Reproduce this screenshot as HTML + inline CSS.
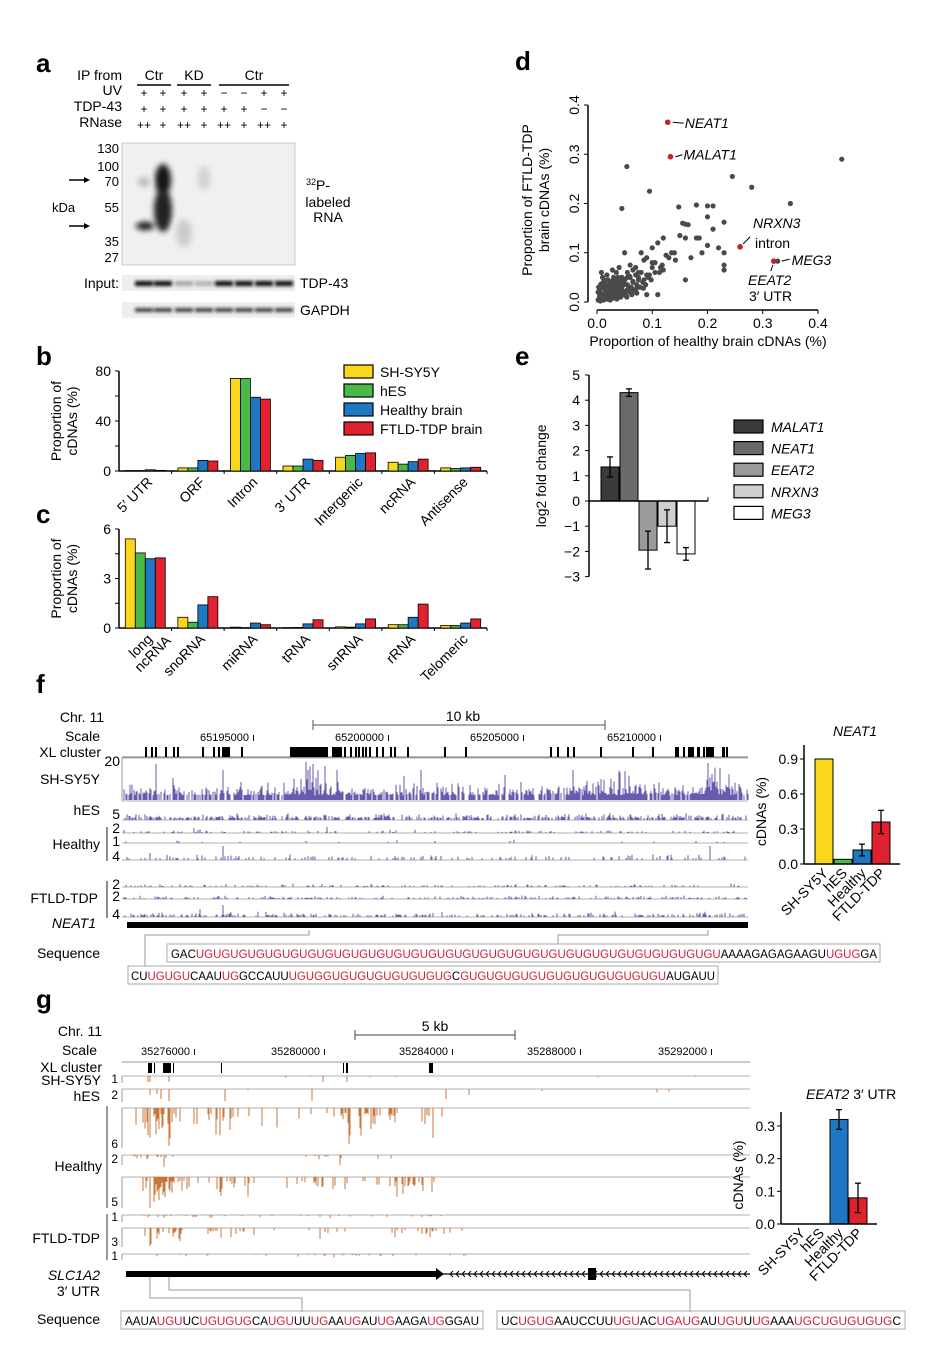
<!DOCTYPE html>
<html><head><meta charset="utf-8">
<style>
html,body{margin:0;padding:0;background:#fff}
svg{display:block;font-family:"Liberation Sans",sans-serif}
</style></head>
<body>
<svg id="fig" width="946" height="1362" viewBox="0 0 946 1362">
<defs>
<filter id="bl" x="-50%" y="-50%" width="200%" height="200%"><feGaussianBlur stdDeviation="3"/></filter>
<filter id="bl2" x="-50%" y="-50%" width="200%" height="200%"><feGaussianBlur stdDeviation="1.5"/></filter>
</defs>

<!-- Panel a -->
<g font-size="14">
<text x="36" y="72" font-size="26" font-weight="bold">a</text>
<g text-anchor="end">
<text x="122" y="80">IP from</text><text x="122" y="95">UV</text><text x="122" y="111">TDP-43</text><text x="122" y="127">RNase</text>
</g>
<g text-anchor="middle">
<text x="154" y="80">Ctr</text><text x="194" y="80">KD</text><text x="254" y="80">Ctr</text>
</g>
<g stroke="#000" stroke-width="1.5"><line x1="137" y1="85" x2="171" y2="85"/><line x1="177" y1="85" x2="211" y2="85"/><line x1="219" y1="85" x2="289" y2="85"/></g>
<g id="signs" text-anchor="middle" font-size="12"></g>
<g text-anchor="end" font-size="13">
<text x="119" y="153">130</text><text x="119" y="171">100</text><text x="119" y="186">70</text><text x="119" y="212">55</text><text x="119" y="246">35</text><text x="119" y="262">27</text>
</g>
<text x="52" y="212" font-size="13">kDa</text>
<g stroke="#000" stroke-width="1.5"><line x1="69" y1="180" x2="86" y2="180"/><line x1="69" y1="226" x2="86" y2="226"/></g>
<path d="M84 177 L90 180 L84 183 Z M84 223 L90 226 L84 229 Z"/>
<rect x="122" y="143" width="173" height="122" fill="#f0f0f0" stroke="#999" stroke-width="0.5"/>
<g filter="url(#bl)">
<ellipse cx="145" cy="226" rx="9" ry="4" fill="#111"/>
<ellipse cx="144" cy="182" rx="6" ry="5" fill="#bbb"/>
<ellipse cx="163" cy="180" rx="8" ry="16" fill="#151515"/>
<ellipse cx="163" cy="210" rx="9" ry="22" fill="#222"/>
<ellipse cx="184" cy="233" rx="8" ry="14" fill="#ccc"/>
<ellipse cx="204" cy="178" rx="6" ry="12" fill="#d2d2d2"/>
</g>
<text x="306" y="190" font-size="14"><tspan font-size="9" dy="-5">32</tspan><tspan dy="5">P-</tspan></text>
<text x="328" y="207" font-size="14" text-anchor="middle">labeled</text>
<text x="328" y="222" font-size="14" text-anchor="middle">RNA</text>
<text x="119" y="288" text-anchor="end">Input:</text>
<rect x="122" y="275" width="173" height="16" fill="#eee"/>
<rect x="122" y="302" width="173" height="16" fill="#eee"/>
<g id="bands" filter="url(#bl2)"></g>
<text x="300" y="288">TDP-43</text><text x="300" y="315">GAPDH</text>
</g>

<!-- Panel b & c -->
<text x="36" y="365" font-size="26" font-weight="bold">b</text>
<text x="36" y="523" font-size="26" font-weight="bold">c</text>
<g id="chartB"></g>
<g id="chartC"></g>
<g id="legendB" font-size="14"></g>

<!-- Panel d -->
<text x="515" y="70" font-size="26" font-weight="bold">d</text>
<g id="chartD"></g>

<!-- Panel e -->
<text x="515" y="365" font-size="26" font-weight="bold">e</text>
<g id="chartE"></g>

<!-- Panel f -->
<text x="36" y="693" font-size="26" font-weight="bold">f</text>
<g id="panelF"></g>
<g id="chartF"></g>

<!-- Panel g -->
<text x="36" y="1008" font-size="26" font-weight="bold">g</text>
<g id="panelG"></g>
<g id="chartG"></g>
</svg>

<script>
// ---------- data ----------
const bCategories = ["5′ UTR","ORF","Intron","3′ UTR","Intergenic","ncRNA","Antisense"];
const bSHSY5Y = [0.3,2.5,74,4,11,7,2.5];
const bHES = [0.3,2.5,74,4,12.5,5.5,2];
const bHealthy = [1,8.5,59,9.5,14,7.5,2.5];
const bFTLD = [0.5,8,57.5,8.5,14.5,9.5,3];
const bTicks = [0,40,80];

const cCategories = ["long ncRNA","snoRNA","miRNA","tRNA","snRNA","rRNA","Telomeric"];
const cSHSY5Y = [5.4,0.65,0.05,0.02,0.07,0.2,0.15];
const cHES = [4.55,0.35,0.02,0.03,0.05,0.2,0.15];
const cHealthy = [4.2,1.4,0.3,0.25,0.25,0.65,0.3];
const cFTLD = [4.25,1.9,0.2,0.5,0.55,1.45,0.55];
const cTicks = [0,3,6];

const seriesNames = ["SH-SY5Y","hES","Healthy brain","FTLD-TDP brain"];
const seriesColors = ["#f9d71c","#4bb94a","#1f77c4","#e0212e"];

const dHealthyX = [0.054,0.095,0.045,0.148,0.18,0.2,0.21,0.2,0.245,0.28,0.35,0.443,0.23,0.155,0.16,0.165,0.21,0.16,0.18,0.185,0.15,0.2,0.22,0.23,0.23,0.23,0.16,0.19,0.17,0.14,0.13,0.12,0.11,0.09,0.12,0.11,0.1,0.327,
0.08,0.085,0.09,0.1,0.07,0.075,0.06,0.065,0.055,0.05,0.045,0.04,0.035,0.03,0.025,0.02,0.015,0.01,0.005,0.005,0.01,0.015,0.02,0.025,0.03,0.035,0.04,0.045,0.05,0.055,0.06,0.065,0.07,0.075,0.08,0.09,0.1,0.105,0.01,0.02,0.03,0.04,0.05,0.06,0.07,0.012,0.022,0.032,0.042,0.052,0.062,0.072,0.008,0.018,0.028,0.038,0.048,0.058,0.003,0.013,0.023,0.033,0.043,0.053,0.063,0.073,0.083,0.093,0.113,0.125,0.135,0.142,0.118,0.098,0.088,0.068,
0.002,0.004,0.006,0.008,0.01,0.012,0.014,0.016,0.018,0.02,0.022,0.024,0.026,0.028,0.03,0.032,0.034,0.036,0.038,0.04,0.002,0.005,0.008,0.011,0.014,0.017,0.02,0.023,0.026,0.029,0.032,0.035,0.038,0.041,0.044,0.047,0.003,0.007,0.011,0.015,0.019,0.023,0.027,0.031,0.035,0.039,0.043,0.047,0.051,0.055,0.059,0.004,0.009,0.014,0.019,0.024,0.029,0.034,0.039,0.044,0.049,0.054,0.006,0.012,0.018,0.024,0.03,0.036,0.042,0.048,0.054,0.06,0.066,0.072,0.078,0.084,0.005,0.015,0.025,0.035,0.045,0.055,0.065,0.075,0.085,0.095,0.105,0.115];
const dFTLDY = [0.275,0.225,0.19,0.193,0.197,0.195,0.195,0.173,0.255,0.233,0.2,0.29,0.162,0.16,0.158,0.157,0.148,0.13,0.13,0.13,0.135,0.115,0.11,0.1,0.075,0.065,0.045,0.1,0.09,0.1,0.09,0.065,0.015,0.015,0.13,0.12,0.11,0.083,
0.1,0.085,0.09,0.08,0.07,0.06,0.075,0.065,0.06,0.1,0.05,0.07,0.06,0.05,0.04,0.045,0.035,0.03,0.02,0.01,0.05,0.025,0.015,0.03,0.02,0.04,0.03,0.025,0.045,0.035,0.05,0.04,0.055,0.045,0.06,0.055,0.07,0.08,0.01,0.01,0.01,0.012,0.015,0.02,0.025,0.04,0.03,0.02,0.015,0.02,0.03,0.035,0.06,0.055,0.065,0.05,0.04,0.03,0.005,0.015,0.005,0.008,0.01,0.012,0.015,0.03,0.04,0.05,0.06,0.095,0.1,0.085,0.075,0.045,0.035,0.025,
0.004,0.008,0.012,0.006,0.01,0.014,0.018,0.008,0.012,0.016,0.02,0.01,0.014,0.018,0.022,0.012,0.016,0.02,0.024,0.028,0.02,0.024,0.028,0.032,0.018,0.026,0.03,0.034,0.022,0.03,0.036,0.026,0.032,0.038,0.04,0.034,0.03,0.036,0.04,0.044,0.028,0.038,0.042,0.046,0.034,0.044,0.048,0.04,0.046,0.05,0.052,0.006,0.008,0.01,0.006,0.008,0.01,0.012,0.014,0.016,0.02,0.024,0.002,0.004,0.006,0.004,0.008,0.006,0.012,0.016,0.01,0.02,0.024,0.018,0.03,0.028,0.014,0.02,0.028,0.018,0.035,0.025,0.042,0.05,0.045,0.055,0.06,0.07];
const dHighlightNames = ["NEAT1","MALAT1","NRXN3","EEAT2"];
const dHighlightX = [0.128,0.133,0.259,0.32];
const dHighlightY = [0.365,0.295,0.112,0.083];
const dTicks = [0.0,0.1,0.2,0.3,0.4];

const eNames = ["MALAT1","NEAT1","EEAT2","NRXN3","MEG3"];
const eValues = [1.35,4.3,-1.95,-1.0,-2.1];
const eErrors = [0.4,0.15,0.75,0.65,0.25];
const eColors = ["#3a3a3a","#6a6a6a","#9a9a9a","#cfcfcf","#ffffff"];
const eTicks = [5,4,3,2,1,0,-1,-2,-3];

const fCategories = ["SH-SY5Y","hES","Healthy","FTLD-TDP"];
const fValues = [0.9,0.04,0.12,0.36];
const fErrors = [0,0,0.05,0.1];
const fTicks = [0.0,0.3,0.6,0.9];

const gCategories = ["SH-SY5Y","hES","Healthy","FTLD-TDP"];
const gValues = [0,0,0.32,0.08];
const gErrors = [0,0,0.03,0.045];
const gTicks = [0.0,0.1,0.2,0.3];

// ---------- helpers ----------
const NS="http://www.w3.org/2000/svg";
function mk(parent,tag,attrs,text){const e=document.createElementNS(NS,tag);for(const k in attrs)e.setAttribute(k,attrs[k]);if(text!==undefined)e.textContent=text;parent.appendChild(e);return e;}
function fmt(v,d){return v.toFixed(d).replace("-","−");}

// blot signs
(function(){
 const g=document.getElementById('signs');
 const xs=[144,163,184,204,224,244,264,284];
 const uv=["+","+","+","+","−","−","+","+"],tdp=["+","+","+","+","+","+","−","−"],rn=["++","+","++","+","++","+","++","+"];
 xs.forEach((x,i)=>{mk(g,'text',{x:x,y:97},uv[i]);mk(g,'text',{x:x,y:113},tdp[i]);mk(g,'text',{x:x,y:129},rn[i]);});
 const b=document.getElementById('bands');
 const inp=[1,1,0.3,0.25,1,1,1,1];
 xs.forEach((x,i)=>{mk(b,'rect',{x:x-9,y:281,width:18,height:5,fill:'#111','fill-opacity':inp[i]});mk(b,'rect',{x:x-9,y:308,width:18,height:4,fill:'#222','fill-opacity':0.85});});
})();

// grouped bars b/c
function grouped(id,cats,series,ticks,x0,x1,y0,yTop,rotLabels,labelBreak){
 const g=document.getElementById(id);
 const max=ticks[ticks.length-1];
 const ys=v=>y0-(v/max)*(y0-yTop);
 mk(g,'line',{x1:x0,y1:yTop,x2:x0,y2:y0,stroke:'#000','stroke-width':1.5});
 mk(g,'line',{x1:x0,y1:y0,x2:x1,y2:y0,stroke:'#000','stroke-width':1.5});
 const step=(ticks[1]-ticks[0])/2;
 for(let v=0;v<=max+1e-9;v+=step){mk(g,'line',{x1:x0-4,y1:ys(v),x2:x0,y2:ys(v),stroke:'#000'});}
 ticks.forEach(v=>{const t=mk(g,'text',{x:x0-8,y:ys(v)+5,'text-anchor':'end','font-size':14},String(v));});
 const gw=(x1-x0)/cats.length, bw=10;
 cats.forEach((c,i)=>{
  const gx=x0+gw*i+gw/2-2*bw;
  mk(g,'line',{x1:x0+gw*(i+1),y1:y0,x2:x0+gw*(i+1),y2:y0+3,stroke:'#000'});
  series.forEach((s,j)=>{
   const r=mk(g,'rect',{x:gx+j*bw,y:ys(s[i]),width:bw,height:Math.max(0.5,y0-ys(s[i])),fill:seriesColors[j],stroke:'#000','stroke-width':0.8});
   
   
  });
  const lx=x0+gw*i+gw/2+8, ly=y0+12;
  const t=mk(g,'text',{x:lx,y:ly,'text-anchor':'end','font-size':14,transform:`rotate(-45 ${lx} ${ly})`});
  if(labelBreak && c.indexOf(' ')>0 && c.startsWith('long')){
   mk(t,'tspan',{x:lx,dy:0},'long');mk(t,'tspan',{x:lx+12,dy:14},'ncRNA');
  } else t.textContent=c;
  
 });
 const tx=x0-50, ty=(y0+yTop)/2;
 const yl=mk(g,'text',{x:tx,y:ty,'text-anchor':'middle','font-size':14,transform:`rotate(-90 ${tx} ${ty})`});
 mk(yl,'tspan',{x:tx,dy:-8},'Proportion of');mk(yl,'tspan',{x:tx,dy:16},'cDNAs (%)');
 
}
grouped('chartB',bCategories,[bSHSY5Y,bHES,bHealthy,bFTLD],bTicks,119,487,471,371);
grouped('chartC',cCategories,[cSHSY5Y,cHES,cHealthy,cFTLD],cTicks,119,487,628,529,true,true);
(function(){const g=document.getElementById('legendB');
 seriesNames.forEach((n,i)=>{const y=365+i*19;
  const r=mk(g,'rect',{x:344,y:y,width:29,height:13,fill:seriesColors[i],stroke:'#000','stroke-width':1.2});
  
  const t=mk(g,'text',{x:380,y:y+12},n);});
})();

// scatter d
(function(){
 const g=document.getElementById('chartD');
 const X=v=>597+v*552.5, Y=v=>302-v*492.5;
 mk(g,'line',{x1:588,y1:Y(0.4),x2:588,y2:Y(0),stroke:'#000','stroke-width':1.5});
 mk(g,'line',{x1:X(0),y1:310,x2:X(0.4),y2:310,stroke:'#000','stroke-width':1.5});
 dTicks.forEach(v=>{
  mk(g,'line',{x1:584,y1:Y(v),x2:588,y2:Y(v),stroke:'#000'});
  mk(g,'line',{x1:X(v),y1:310,x2:X(v),y2:314,stroke:'#000'});
  const tx=579,ty=Y(v);
  const a=mk(g,'text',{x:tx,y:ty,'text-anchor':'middle','font-size':14,transform:`rotate(-90 ${tx} ${ty})`},v.toFixed(1));
  const b=mk(g,'text',{x:X(v),y:328,'text-anchor':'middle','font-size':14},v.toFixed(1));
 });
 const yt=mk(g,'text',{x:540,y:200,'text-anchor':'middle','font-size':14,transform:'rotate(-90 540 200)'});
 mk(yt,'tspan',{x:540,dy:-8},'Proportion of FTLD-TDP');mk(yt,'tspan',{x:540,dy:17},'brain cDNAs (%)');
 
 const xt=mk(g,'text',{x:708,y:346,'text-anchor':'middle','font-size':14},'Proportion of healthy brain cDNAs (%)');
 dHealthyX.forEach((x,i)=>{const c=mk(g,'circle',{cx:X(x),cy:Y(dFTLDY[i]),r:2.6,fill:'#4a4a4a'});});
 dHighlightX.forEach((x,i)=>{const c=mk(g,'circle',{cx:X(x),cy:Y(dHighlightY[i]),r:2.8,fill:'#c8202a'});});
 const L=(x1,y1,x2,y2)=>mk(g,'line',{x1,y1,x2,y2,stroke:'#000','stroke-width':1});
 L(X(0.128)+5,Y(0.365),X(0.128)+16,Y(0.365)+1);
 mk(g,'text',{x:X(0.128)+17,y:Y(0.365)+6,'font-size':14,'font-style':'italic'},'NEAT1');
 L(X(0.133)+5,Y(0.295),X(0.133)+12,Y(0.295)-2);
 mk(g,'text',{x:X(0.133)+13,y:Y(0.295)+3,'font-size':14,'font-style':'italic'},'MALAT1');
 L(X(0.259)+3,Y(0.112)-3,X(0.259)+10,Y(0.112)-10);
 mk(g,'text',{x:753,y:Y(0.112)-19,'font-size':14,'font-style':'italic'},'NRXN3');
 mk(g,'text',{x:755,y:Y(0.112)+1,'font-size':14},'intron');
 L(X(0.327)+4,Y(0.083),X(0.327)+12,Y(0.083)-2);
 mk(g,'text',{x:X(0.327)+14,y:Y(0.083)+4,'font-size':14,'font-style':'italic'},'MEG3');
 L(X(0.32)-1,Y(0.083)+4,X(0.32)-3,Y(0.083)+10);
 mk(g,'text',{x:748,y:Y(0.083)+24,'font-size':14,'font-style':'italic'},'EEAT2');
 mk(g,'text',{x:749,y:Y(0.083)+40,'font-size':14},'3′ UTR');
})();

// bar chart e
(function(){
 const g=document.getElementById('chartE');
 const Y=v=>501-v*25.2;
 mk(g,'line',{x1:589,y1:Y(5),x2:589,y2:Y(-3),stroke:'#000','stroke-width':1.5});
 eTicks.forEach(v=>{mk(g,'line',{x1:585,y1:Y(v),x2:589,y2:Y(v),stroke:'#000'});
  const t=mk(g,'text',{x:580,y:Y(v)+5,'text-anchor':'end','font-size':14},fmt(v,0));});
 const yt=mk(g,'text',{x:546,y:Y(1),'text-anchor':'middle','font-size':14,transform:`rotate(-90 546 ${Y(1)})`},'log2 fold change');
 
 eValues.forEach((v,i)=>{const x=601+i*19;
  const r=mk(g,'rect',{x:x,y:Math.min(Y(v),Y(0)),width:18,height:Math.abs(Y(v)-Y(0)),fill:eColors[i],stroke:'#000','stroke-width':1});
  
  const cx=x+9;
  mk(g,'line',{x1:cx,y1:Y(v+eErrors[i]),x2:cx,y2:Y(v-eErrors[i]),stroke:'#000','stroke-width':1.3});
  mk(g,'line',{x1:cx-3,y1:Y(v+eErrors[i]),x2:cx+3,y2:Y(v+eErrors[i]),stroke:'#000','stroke-width':1.3});
  mk(g,'line',{x1:cx-3,y1:Y(v-eErrors[i]),x2:cx+3,y2:Y(v-eErrors[i]),stroke:'#000','stroke-width':1.3});
 });
 mk(g,'line',{x1:589,y1:Y(0),x2:708,y2:Y(0),stroke:'#000','stroke-width':1.5});
 mk(g,'line',{x1:708,y1:Y(0)-4,x2:708,y2:Y(0),stroke:'#000'});
 eNames.forEach((n,i)=>{const y=420+i*21.6;
  const r=mk(g,'rect',{x:734,y:y,width:29,height:13,fill:eColors[i],stroke:'#000','stroke-width':1.2});
  const t=mk(g,'text',{x:771,y:y+12,'font-size':14,'font-style':'italic'},n);});
})();

// small bar charts f/g
function smallBar(id,cats,vals,errs,ticks,x0,y0,yTop){
 const g=document.getElementById(id);
 const max=ticks[ticks.length-1];
 const Y=v=>y0-v/max*(y0-yTop);
 mk(g,'line',{x1:x0,y1:yTop-14,x2:x0,y2:y0,stroke:'#000','stroke-width':1.5});
 ticks.forEach(v=>{mk(g,'line',{x1:x0-4,y1:Y(v),x2:x0,y2:Y(v),stroke:'#000'});
  const t=mk(g,'text',{x:x0-6,y:Y(v)+5,'text-anchor':'end','font-size':14},v.toFixed(1));});
 const tx=x0-38,ty=(y0+yTop)/2;
 const yt=mk(g,'text',{x:tx,y:ty,'text-anchor':'middle','font-size':14,transform:`rotate(-90 ${tx} ${ty})`},'cDNAs (%)');
 vals.forEach((v,i)=>{const x=x0+11+i*19;
  if(v>0){const r=mk(g,'rect',{x:x,y:Y(v),width:18,height:y0-Y(v),fill:seriesColors[i],stroke:'#000','stroke-width':1});}
  if(errs[i]>0){const cx=x+9;
   mk(g,'line',{x1:cx,y1:Y(v+errs[i]),x2:cx,y2:Y(v-errs[i]),stroke:'#000','stroke-width':1.3});
   mk(g,'line',{x1:cx-3,y1:Y(v+errs[i]),x2:cx+3,y2:Y(v+errs[i]),stroke:'#000','stroke-width':1.3});
   mk(g,'line',{x1:cx-3,y1:Y(v-errs[i]),x2:cx+3,y2:Y(v-errs[i]),stroke:'#000','stroke-width':1.3});}
  const lx=x+14,ly=y0+10;
  const t=mk(g,'text',{x:lx,y:ly,'text-anchor':'end','font-size':14,transform:`rotate(-45 ${lx} ${ly})`},cats[i]);
 });
 mk(g,'line',{x1:x0,y1:y0,x2:x0+96,y2:y0,stroke:'#000','stroke-width':1.5});
}
smallBar('chartF',fCategories,fValues,fErrors,fTicks,804,864,759);
mk(document.getElementById('chartF'),'text',{x:855,y:736,'text-anchor':'middle','font-size':14,'font-style':'italic'},'NEAT1');
smallBar('chartG',gCategories,gValues,gErrors,gTicks,781,1224,1126);
(function(){const t=mk(document.getElementById('chartG'),'text',{x:806,y:1099,'font-size':14});mk(t,'tspan',{'font-style':'italic'},'EEAT2');mk(t,'tspan',{},' 3′ UTR');})();
mk(document.getElementById('fig'),'rect',{x:905,y:1080,width:41,height:30,fill:'#fff'});

// texture generator for genome tracks (decorative density pattern)
function hash(n){let x=Math.sin(n*12.9898+78.233)*43758.5453;return x-Math.floor(x);}
function track(g,x0,x1,base,h,color,density,seed,peaks,down,hot){
 let d='';
 for(let x=x0;x<=x1;x+=1){
  const r=hash(x*1.37+seed);
  let hv=0;
  const local = hot? hot.reduce((a,p)=>a+Math.max(0,1-Math.abs(x-p[0])/p[1])*p[2],0):0;
  if(r<density+local*0.5){hv=h*(0.12+0.35*hash(x*2.1+seed*3)*hash(x*0.7+seed)*(1+local*1.5));}
  if(hv>0){ d+= down? `M${x} ${base}v${Math.min(h,hv).toFixed(1)}` : `M${x} ${base}v${(-Math.min(h,hv)).toFixed(1)}`; }
 }
 (peaks||[]).forEach(p=>{d+= down?`M${p[0]} ${base}v${p[1]}`:`M${p[0]} ${base}v${-p[1]}`;});
 const e=mk(g,'path',{d:d,stroke:color,'stroke-width':1,fill:'none'});
 
}
function xl(g,y,marks){marks.forEach(m=>{mk(g,'rect',{x:m[0],y:y,width:m[1],height:10,fill:'#000'});});}

// Panel f
(function(){
 const g=document.getElementById('panelF'), P='#6a5aad', x0=124, x1=748;
 const lab=(x,y,t,a,it)=>mk(g,'text',{x:x,y:y,'text-anchor':a||'end','font-size':14,'font-style':it?'italic':'normal'},t);
 lab(104,722,'Chr. 11');lab(100,741,'Scale');lab(101,757,'XL cluster');lab(100,784,'SH-SY5Y');lab(100,815,'hES');lab(100,849,'Healthy');lab(98,903,'FTLD-TDP');lab(96,928,'NEAT1','end',true);lab(100,958,'Sequence');
 mk(g,'line',{x1:313,y1:725,x2:605,y2:725,stroke:'#555'});mk(g,'line',{x1:313,y1:720,x2:313,y2:730,stroke:'#555'});mk(g,'line',{x1:605,y1:720,x2:605,y2:730,stroke:'#555'});
 lab(463,721,'10 kb','middle');
 [[200,'65195000'],[335,'65200000'],[470,'65205000'],[607,'65210000']].forEach(a=>{mk(g,'text',{x:a[0],y:741,'font-size':11},a[1]+' ı');});
 mk(g,'line',{x1:122,y1:757,x2:748,y2:757,stroke:'#777'});
 xl(g,747,[[145,2],[151,2],[155,2],[165,2],[173,2],[177,2],[202,2],[213,2],[218,2],[222,8],[241,2],[290,16],[306,22],[332,10],[344,2],[350,2],[355,2],[358,2],[362,2],[365,2],[369,2],[376,2],[382,2],[390,2],[394,2],[407,2],[444,2],[465,2],[550,2],[557,2],[567,2],[573,2],[600,2],[632,2],[652,2],[675,4],[683,2],[688,6],[697,3],[703,2],[706,8],[722,3],[726,2]]);
 lab(120,766,'20','end');lab(120,819,'5','end');
 [[758],[801],[820],[833],[843],[860],[887],[899],[917]].forEach(a=>mk(g,'line',{x1:122,y1:a[0],x2:748,y2:a[0],stroke:'#999','stroke-width':0.8}));
 mk(g,'line',{x1:122,y1:758,x2:122,y2:801,stroke:'#999'});
 track(g,x0,x1,800,40,P,0.75,1,[[156,36],[173,22],[223,30],[241,18],[306,38],[308,30],[313,36],[318,30],[325,34],[337,30],[338,18],[404,24],[421,30],[470,15],[505,25],[573,30],[708,37],[712,26],[720,32]],false,[[310,30,1],[620,60,0.6],[715,30,0.8]]);
 track(g,x0,x1,820,16,P,0.55,2,[],false);
 lab(120,833,'2','end');lab(120,846,'1','end');lab(120,861,'4','end');lab(120,889,'2','end');lab(120,901,'2','end');lab(120,919,'4','end');
 mk(g,'line',{x1:107,y1:827,x2:107,y2:861,stroke:'#666','stroke-width':1.5});
 mk(g,'line',{x1:107,y1:881,x2:107,y2:918,stroke:'#666','stroke-width':1.5});
 track(g,x0,x1,833,8,P,0.18,3,[[327,6],[194,5]],false);
 track(g,x0,x1,843,8,P,0.03,4,[],false);
 track(g,x0,x1,860,14,P,0.2,5,[[223,14],[150,7],[710,14]],false);
 track(g,x0,x1,887,8,P,0.25,6,[],false);
 track(g,x0,x1,899,8,P,0.3,7,[],false);
 track(g,x0,x1,917,12,P,0.35,8,[[223,12],[200,8]],false);
 const nb=mk(g,'rect',{x:127,y:922,width:621,height:6,fill:'#000'});
 mk(g,'polyline',{points:'145,966 145,935 309,935 309,930',stroke:'#999',fill:'none'});
 mk(g,'polyline',{points:'558,944 558,935 708,935 708,930',stroke:'#999',fill:'none'});
 mk(g,'rect',{x:167,y:944,width:713,height:18,fill:'none',stroke:'#aaa'});
 mk(g,'rect',{x:128,y:966,width:590,height:18,fill:'none',stroke:'#aaa'});
 const s1=mk(g,'text',{x:171,y:958,'font-size':12,textLength:706,lengthAdjust:'spacingAndGlyphs'});
 mk(s1,'tspan',{},'GAC');mk(s1,'tspan',{fill:'#d0203a'},'UGUGUGUGUGUGUGUGUGUGUGUGUGUGUGUGUGUGUGUGUGUGUGUGUGUGUGUGUGUGU');mk(s1,'tspan',{},'AAAAGAGAGAAGU');mk(s1,'tspan',{fill:'#d0203a'},'UGUG');mk(s1,'tspan',{},'GA');
 const s2=mk(g,'text',{x:131,y:980,'font-size':12,textLength:584,lengthAdjust:'spacingAndGlyphs'});
 mk(s2,'tspan',{},'CU');mk(s2,'tspan',{fill:'#d0203a'},'UGUGU');mk(s2,'tspan',{},'CAAU');mk(s2,'tspan',{fill:'#d0203a'},'UG');mk(s2,'tspan',{},'GCCAUU');mk(s2,'tspan',{fill:'#d0203a'},'UGUGGUGUGUGUGUGUGUG');mk(s2,'tspan',{},'C');mk(s2,'tspan',{fill:'#d0203a'},'GUGUGUGUGUGUGUGUGUGUGUGU');mk(s2,'tspan',{},'AUGAUU');
})();

// Panel g
(function(){
 const g=document.getElementById('panelG'), O='#c8773a', x0=124, x1=750;
 const lab=(x,y,t,a,it)=>mk(g,'text',{x:x,y:y,'text-anchor':a||'end','font-size':14,'font-style':it?'italic':'normal'},t);
 lab(102,1036,'Chr. 11');lab(97,1055,'Scale');lab(102,1072,'XL cluster');lab(101,1085,'SH-SY5Y');lab(100,1101,'hES');lab(102,1171,'Healthy');lab(100,1243,'FTLD-TDP');lab(100,1280,'SLC1A2','end',true);lab(100,1296,'3′ UTR');lab(100,1324,'Sequence');
 mk(g,'line',{x1:355,y1:1035,x2:515,y2:1035,stroke:'#444'});mk(g,'line',{x1:355,y1:1030,x2:355,y2:1040,stroke:'#444'});mk(g,'line',{x1:515,y1:1030,x2:515,y2:1040,stroke:'#444'});
 lab(435,1031,'5 kb','middle');
 [[141,'35276000'],[271,'35280000'],[399,'35284000'],[527,'35288000'],[658,'35292000']].forEach(a=>{mk(g,'text',{x:a[0],y:1055,'font-size':11},a[1]+' ı');});
 mk(g,'line',{x1:122,y1:1062,x2:750,y2:1062,stroke:'#999'});
 xl(g,1063,[[148,4],[154,1],[163,8],[173,1],[221,1],[343,1],[346,2],[429,4]]);
 [1076,1089,1108,1155,1177,1215,1228,1254].forEach(y=>mk(g,'line',{x1:122,y1:y,x2:750,y2:y,stroke:'#999','stroke-width':0.8}));
 [[1076,1083],[1089,1102],[1108,1148],[1155,1165],[1177,1208],[1215,1222],[1228,1247],[1254,1260]].forEach(a=>mk(g,'line',{x1:122,y1:a[0],x2:122,y2:a[1],stroke:'#999'}));
 lab(118,1083,'1','end',false);lab(118,1099,'2');lab(118,1148,'6');lab(118,1163,'2');lab(118,1206,'5');lab(118,1221,'1');lab(118,1246,'3');lab(118,1260,'1');
 mk(g,'line',{x1:107,y1:1106,x2:107,y2:1208,stroke:'#777','stroke-width':1.5});
 mk(g,'line',{x1:107,y1:1214,x2:107,y2:1260,stroke:'#777','stroke-width':1.5});
 g.querySelectorAll('text').forEach(t=>{if(/^\d$/.test(t.textContent))t.setAttribute('font-size','12');});
 track(g,x0,x1,1076,6,O,0.01,11,[[148,6],[150,6],[169,6],[323,6],[347,6]],true);
 track(g,x0,x1,1089,12,O,0.01,12,[[150,6],[157,5],[161,10],[169,12],[225,12],[312,12],[446,10],[469,6]],true);
 track(g,x0,x1,1108,40,O,0.0,13,[[150,20],[163,18],[169,38],[262,18],[433,30]],true,[[160,30,1.8],[215,40,0.8],[300,30,0.6],[345,25,0.9],[380,40,0.8],[430,15,1],[490,10,0.2]]);
 track(g,x0,x1,1155,10,O,0.0,14,[[164,12],[340,10]],true,[[150,25,0.6],[330,25,0.4],[380,30,0.3]]);
 track(g,x0,x1,1177,31,O,0.0,15,[[150,31],[163,18],[170,14]],true,[[165,30,1.8],[230,45,0.7],[320,50,0.7],[400,40,0.9]]);
 track(g,x0,x1,1215,7,O,0.0,16,[],true,[[200,80,0.45],[320,80,0.35],[420,40,0.4]]);
 track(g,x0,x1,1228,18,O,0.0,17,[[150,18],[151,16]],true,[[170,40,0.8],[240,60,0.4],[330,60,0.4],[420,50,0.6]]);
 track(g,x0,x1,1254,7,O,0.0,18,[],true,[[200,90,0.3],[340,60,0.35],[450,60,0.2]]);
 const gb=mk(g,'rect',{x:126,y:1271,width:314,height:6,fill:'#000'});
 mk(g,'path',{d:'M436 1268 L444 1274 L436 1280 Z',fill:'#000'});
 mk(g,'line',{x1:440,y1:1274,x2:750,y2:1274,stroke:'#000','stroke-width':1.2});
 let chev='';for(let x=450;x<750;x+=6)chev+=`M${x+3} 1271 L${x} 1274 L${x+3} 1277`;
 mk(g,'path',{d:chev,stroke:'#000',fill:'none','stroke-width':1});
 mk(g,'rect',{x:588,y:1268,width:8,height:12,fill:'#000'});
 mk(g,'polyline',{points:'150,1277 150,1298 302,1298 302,1312',stroke:'#999',fill:'none'});
 mk(g,'polyline',{points:'169,1277 169,1290 690,1290 690,1312',stroke:'#999',fill:'none'});
 mk(g,'rect',{x:121,y:1311,width:362,height:18,fill:'none',stroke:'#aaa'});
 mk(g,'rect',{x:497,y:1311,width:408,height:18,fill:'none',stroke:'#aaa'});
 const R='#d0203a';
 const s1=mk(g,'text',{x:125,y:1325,'font-size':12,textLength:354,lengthAdjust:'spacingAndGlyphs'});
 [['AAUA'],['UGU',R],['UC'],['UGUGUG',R],['CA'],['UGU',R],['UU'],['UG',R],['AA'],['UG',R],['AU'],['UG',R],['AAGA'],['UG',R],['GGAU']].forEach(p=>{mk(s1,'tspan',p[1]?{fill:p[1]}:{},p[0]);});
 const s2=mk(g,'text',{x:501,y:1325,'font-size':12,textLength:400,lengthAdjust:'spacingAndGlyphs'});
 [['UC'],['UGUG',R],['AAUCCUU'],['UGU',R],['AC'],['UGA',R],['UG',R],['AU'],['UGU',R],['U'],['UG',R],['AAA'],['UGC',R],['UGUGUGUG',R],['C']].forEach(p=>{mk(s2,'tspan',p[1]?{fill:p[1]}:{},p[0]);});
})();
</script>
</body></html>
